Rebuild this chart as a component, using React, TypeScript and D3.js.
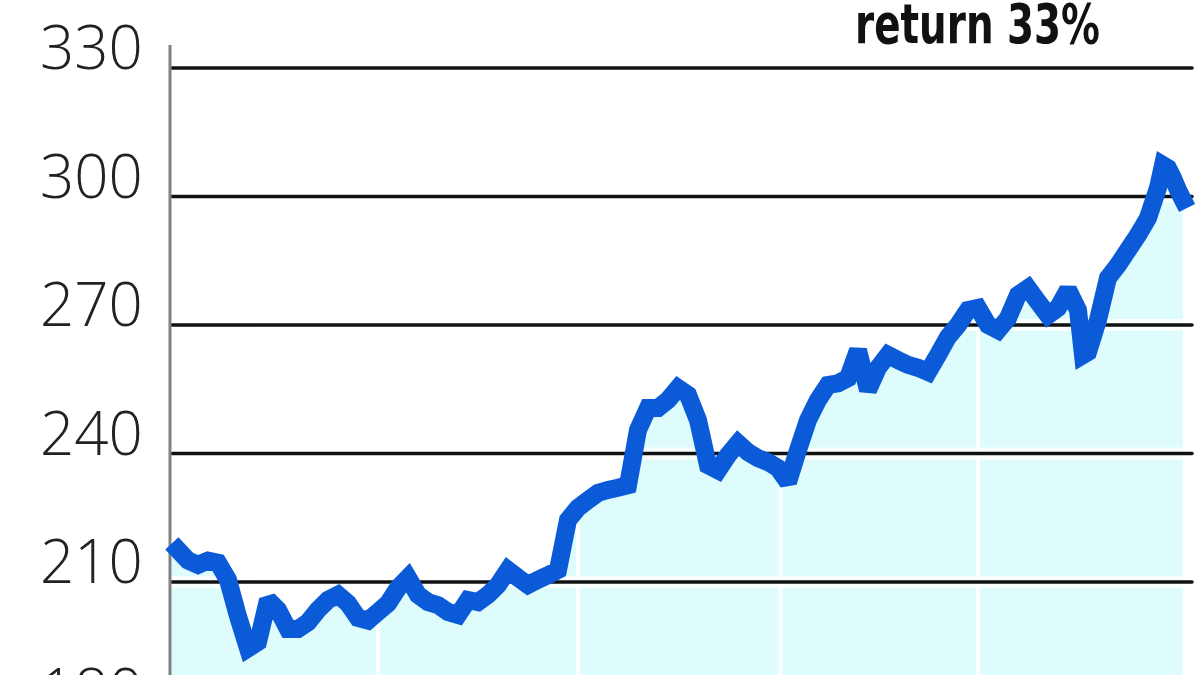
import React, { useEffect, useRef } from 'react';
import * as d3 from 'd3';

// trading day index and index level
const days = [
  0, 2, 4, 6, 8, 10, 12, 14, 16, 18, 20, 22, 24, 26, 28, 30, 32, 34, 36, 38,
  40, 42, 44, 46, 48, 50, 52, 54, 56, 58, 60, 62, 64, 66, 68, 70, 72, 74, 76, 78,
  80, 82, 84, 86, 88, 90, 92, 94, 96, 98, 100, 102, 104, 106, 108, 110, 112, 114, 116, 118,
  120, 122, 124, 126, 128, 130, 132, 134, 136, 138, 140, 142, 144, 146, 148, 150, 152, 154, 156, 158,
  160, 162, 164, 166, 168, 170, 172, 174, 176, 178, 180, 181, 182, 184, 186, 188, 190, 192, 194, 196,
  197, 198, 199, 200, 201
];

const values = [
  217.5, 215, 214, 215, 214.5, 210.5, 202, 194.5, 196, 205.8, 203.5, 199, 199, 200.6, 203.5, 205.8, 207, 205, 201.6, 201,
  203, 205, 208.6, 211, 207, 205.3, 204.6, 203, 202.3, 205.8, 205.3, 207, 209.3, 212.8, 211, 209.3, 210.5, 211.6, 212.8, 224.5,
  227.3, 229.1, 230.8, 231.5, 232, 232.6, 245.5, 250.6, 250.6, 252.5, 255.3, 253.7, 247.8, 237.3, 236.1, 239.6, 242.4, 240.3, 238.9, 238,
  236.6, 233.3, 240.8, 247.8, 252.5, 256, 256.4, 257.6, 264.1, 254.8, 260, 263, 261.8, 260.7, 260, 259, 263, 267.2, 270, 273.5,
  274, 270, 268.8, 271.6, 277, 278.6, 275.4, 272.3, 274, 278.2, 273.5, 263, 263.7, 271.2, 281, 284, 287.5, 291, 295, 302,
  307.3, 306.6, 304.3, 301.5, 299.2
];

const yTicks = [180, 210, 240, 270, 300, 330];
const xGuides = [40, 80, 120.5, 160];
const title = 'return 33%';

const W = 1200;
const H = 675;

export default function App() {
  const svgRef = useRef<SVGSVGElement>(null);

  useEffect(() => {
    if (!svgRef.current) return;
    const svg = d3.select(svgRef.current);
    svg.selectAll('*').remove();

    const x = d3.scaleLinear().domain([0, 201]).range([178, 1183]);
    const y = d3.scaleLinear().domain([210, 330]).range([582, 68]);

    const data = days.map((d, i) => ({ d, v: values[i] }));

    const g = svg.append('g');

    // area under the line, reaching back to the axis
    const area = d3.area<{ d: number; v: number }>()
      .x((p, i) => (i === 0 ? 172 : x(p.d)))
      .y0(H + 10)
      .y1(p => y(p.v));

    g.append('path')
      .datum(data)
      .attr('d', area)
      .attr('fill', '#dffcfc');

    // faint vertical guides inside the fill
    g.selectAll('line.vguide')
      .data(xGuides)
      .join('line')
      .attr('class', 'vguide')
      .attr('x1', d => x(d))
      .attr('x2', d => x(d))
      .attr('y1', 40)
      .attr('y2', H)
      .attr('stroke', '#ffffff')
      .attr('stroke-opacity', 0.85)
      .attr('stroke-width', 4);

    // horizontal gridlines
    const grid = g.selectAll('g.grid')
      .data(yTicks.filter(t => t >= 210))
      .join('g')
      .attr('class', 'grid');

    grid.append('line')
      .attr('x1', 172)
      .attr('x2', 1192)
      .attr('y1', d => y(d))
      .attr('y2', d => y(d))
      .attr('stroke', '#ffffff')
      .attr('stroke-opacity', 0.8)
      .attr('stroke-width', 12);

    grid.append('line')
      .attr('x1', 172)
      .attr('x2', 1192)
      .attr('y1', d => y(d))
      .attr('y2', d => y(d))
      .attr('stroke', '#111111')
      .attr('stroke-width', 3.5)
      .attr('stroke-linecap', 'round');

    // y axis line
    g.append('line')
      .attr('x1', 170)
      .attr('x2', 170)
      .attr('y1', 45)
      .attr('y2', H)
      .attr('stroke', '#808080')
      .attr('stroke-width', 3);

    // tick labels
    g.selectAll('text.tick')
      .data(yTicks)
      .join('text')
      .attr('class', 'tick')
      .attr('x', 40)
      .attr('y', d => y(d) + 1)
      .attr('font-family', '"Open Sans", "DejaVu Sans", sans-serif')
      .attr('font-weight', 300)
      .attr('font-size', 60)
      .attr('fill', '#222222')
      .text(d => String(d));

    // the index line
    const line = d3.line<{ d: number; v: number }>()
      .x(p => x(p.d))
      .y(p => y(p.v));

    g.append('path')
      .datum(data)
      .attr('d', line)
      .attr('fill', 'none')
      .attr('stroke', '#0b5bd8')
      .attr('stroke-width', 18)
      .attr('stroke-linejoin', 'miter')
      .attr('stroke-miterlimit', 2)
      .attr('stroke-linecap', 'square');

    // heading
    g.append('text')
      .attr('x', 855)
      .attr('y', 43)
      .attr('font-family', '"Liberation Sans Narrow", "DejaVu Sans Condensed", "Roboto", sans-serif')
      .attr('font-weight', 'bold')
      .attr('font-size', 56)
      .attr('fill', '#111111')
      .attr('textLength', 245)
      .attr('lengthAdjust', 'spacingAndGlyphs')
      .text(title);
  }, []);

  return (
    <div style={{ position: 'fixed', left: 0, top: 0, width: W, height: H, background: '#ffffff', overflow: 'hidden' }}>
      <svg ref={svgRef} width={W} height={H} style={{ display: 'block' }}></svg>
    </div>
  );
}
